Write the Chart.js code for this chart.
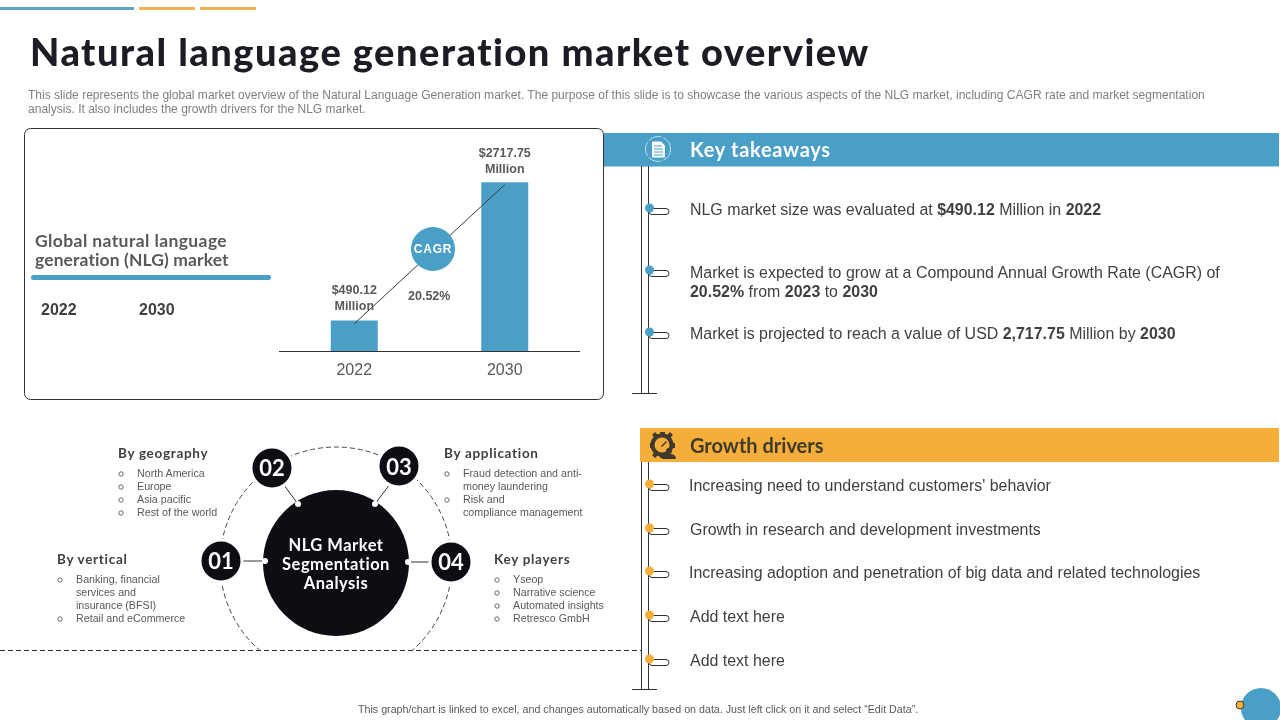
<!DOCTYPE html>
<html>
<head>
<meta charset="utf-8">
<title>Natural language generation market overview</title>
<script src="https://cdn.jsdelivr.net/npm/chart.js@4"></script>
<style>
  html, body { margin: 0; padding: 0; background: #fff; }
  #page { position: relative; width: 1280px; height: 720px; overflow: hidden; font-family: "Liberation Sans", sans-serif; color: #404040; }
  #page > svg { position: absolute; left: 0; top: 0; }
  #grafik { position: absolute; left: 279px; top: 140px; }
  .t { position: absolute; white-space: nowrap; transform: translateY(-50%); line-height: 1; }
  .judul { font-family: Lato, sans-serif; font-weight: 700; }
  .body16 { font-size: 15.95px; left: 690px; }
  .kecil { font-size: 10.7px; color: #595959; }
  .sub { font-size: 12.04px; color: #7f7f7f; left: 28px; }
  .head { font-family: Lato, sans-serif; font-weight: 700; font-size: 13.5px; color: #404040; letter-spacing: 0.7px; }
  .no { font-family: Lato, sans-serif; font-weight: 700; font-size: 22px; color: #fff; width: 40px; text-align: center; }
  .pusat { font-family: Lato, sans-serif; font-weight: 700; font-size: 16.5px; color: #fff; width: 146px; left: 263px; text-align: center; letter-spacing: 0.5px; }
</style>
</head>
<body>
<div id="page">
  <svg id="bg" width="1280" height="720">
    <defs><clipPath id="potong"><rect x="0" y="0" width="640" height="650"/></clipPath></defs>
    <rect x="0" y="7" width="134" height="3" fill="#5fa3c2"/>
    <rect x="139" y="7" width="56" height="3" fill="#e9b44c"/>
    <rect x="200" y="7" width="56" height="3" fill="#e9b44c"/>

    <rect x="24.5" y="128.5" width="579" height="271" rx="6" fill="#fff" stroke="#333" stroke-width="1"/>
    <rect x="31" y="275" width="240" height="5" rx="2.5" fill="#4a9fc7"/>

    <rect x="604" y="133" width="675" height="33.500" fill="#4a9fc7"/>
    <rect x="640" y="428" width="639" height="34" fill="#f6ae3a"/>

    <g stroke="#333" stroke-width="1" fill="none">
      <path d="M641.500 166V393M648.500 166V393M632 393.500H657"/>
      <path d="M641.500 462V689M648.500 462V689M632 689.500H657"/>
    </g>

    <!-- icon dokumen -->
    <circle cx="658" cy="149" r="12.500" fill="none" stroke="#bfe0ef" stroke-width="1" stroke-dasharray="14 2"/>
    <path d="M652 141.500h9l4 4v12h-13z" fill="#fff"/>
    <path d="M654 146h8M654 149h9M654 152h9M654 155h9" stroke="#4a9fc7" stroke-width="1"/>

    <!-- icon gear -->
    <g fill="#403a2d">
      <circle cx="662" cy="445" r="9.500" fill="none" stroke="#403a2d" stroke-width="4"/>
      <path d="M660 432h5v4h-5zM660 454h5v4h-5zM650 443h4v5h-4zM671 443h4v5h-4z"/>
      <path d="M652 435l3-3 3 3-3 3zM667 435l3-3 3 3-3 3zM652 455l3-3 3 3-3 3z"/>
      <circle cx="669" cy="451" r="3"/>
      <path d="M662 459c0-4 3-5 7-5s7 1 7 5z"/>
      <path d="M661 446l5-5 1 1-5 5z"/>
    </g>

    <g id="pil"></g>

    <g clip-path="url(#potong)">
      <circle cx="336" cy="563" r="116" fill="none" stroke="#444" stroke-width="1" stroke-dasharray="5 3"/>
    </g>
    <path d="M0 650.500H642" stroke="#333" stroke-width="1" stroke-dasharray="5 3"/>

    <g stroke="#333" stroke-width="1">
      <path d="M240 561H265M284 485L298 504M390 484L375 504M408 562H432"/>
    </g>
    <circle cx="336" cy="563" r="73" fill="#0d0d14"/>
    <g fill="#fff">
      <circle cx="265" cy="561" r="3"/><circle cx="298" cy="504" r="3"/>
      <circle cx="375" cy="504" r="3"/><circle cx="408" cy="562" r="3"/>
    </g>
    <g fill="#0d0d14" stroke="#fff" stroke-width="3">
      <circle cx="221" cy="561" r="21"/><circle cx="272" cy="468" r="21"/>
      <circle cx="399" cy="466" r="21"/><circle cx="451" cy="562" r="21"/>
    </g>

    <g fill="none" stroke="#595959" stroke-width="0.900" id="titik"></g>

    <circle cx="1261" cy="708" r="20" fill="#4a9fc7"/>
    <circle cx="1240" cy="705" r="4" fill="#f6ae3a" stroke="#403a2d" stroke-width="1"/>
  </svg>

  <canvas id="grafik" width="301" height="245"></canvas>

  <svg width="1280" height="720" style="pointer-events:none">
    <circle cx="433" cy="249" r="22" fill="#4a9fc7"/>
  </svg>

  <div class="t judul" style="left:30px;top:51px;font-size:38px;font-weight:900;color:#1c1c24;letter-spacing:1.5px">Natural language generation market overview</div>
  <div class="t sub" style="top:95px">This slide represents the global market overview of the Natural Language Generation market. The purpose of this slide is to showcase the various aspects of the NLG market, including CAGR rate and market segmentation</div>
  <div class="t sub" style="top:109px">analysis. It also includes the growth drivers for the NLG market.</div>

  <div class="t judul" style="left:35px;top:241px;font-size:17.5px;color:#595959;letter-spacing:0.4px">Global natural language</div>
  <div class="t judul" style="left:35px;top:260px;font-size:17.5px;color:#595959;letter-spacing:0.1px">generation (NLG) market</div>
  <div class="t" style="left:41px;top:309.500px;font-size:16px;font-weight:700">2022</div>
  <div class="t" style="left:139px;top:309.500px;font-size:16px;font-weight:700">2030</div>
  <div class="t" style="left:413px;top:249px;width:40px;text-align:center;font-size:12px;font-weight:700;color:#fff;letter-spacing:0.8px">CAGR</div>
  <div class="t" style="left:408px;top:296px;font-size:12.500px;font-weight:700;color:#595959">20.52%</div>

  <div class="t judul" style="left:690px;top:149px;font-size:20px;color:#fff;letter-spacing:0.7px">Key takeaways</div>
  <div class="t body16" style="top:209.500px">NLG market size was evaluated at <b>$490.12</b> Million in <b>2022</b></div>
  <div class="t body16" style="top:272.500px">Market is expected to grow at a Compound Annual Growth Rate (CAGR) of</div>
  <div class="t body16" style="top:291.500px"><b>20.52%</b> from <b>2023</b> to <b>2030</b></div>
  <div class="t body16" style="top:333.500px">Market is projected to reach a value of USD <b>2,717.75</b> Million by <b>2030</b></div>

  <div class="t judul" style="left:690px;top:445px;font-size:20px;color:#403a2d">Growth drivers</div>
  <div class="t body16" style="top:485.500px;left:689px">Increasing need to understand customers' behavior</div>
  <div class="t body16" style="top:529.500px">Growth in research and development investments</div>
  <div class="t body16" style="top:572.500px;left:689px">Increasing adoption and penetration of big data and related technologies</div>
  <div class="t body16" style="top:616.500px">Add text here</div>
  <div class="t body16" style="top:660.500px">Add text here</div>

  <div class="t head" style="left:118px;top:453.500px">By geography</div>
  <div class="t kecil" style="left:137px;top:473px">North America</div>
  <div class="t kecil" style="left:137px;top:486px">Europe</div>
  <div class="t kecil" style="left:137px;top:499px">Asia pacific</div>
  <div class="t kecil" style="left:137px;top:512px">Rest of the world</div>

  <div class="t head" style="left:444px;top:453.500px">By application</div>
  <div class="t kecil" style="left:463px;top:473px">Fraud detection and anti-</div>
  <div class="t kecil" style="left:463px;top:486px">money laundering</div>
  <div class="t kecil" style="left:463px;top:499px">Risk and</div>
  <div class="t kecil" style="left:463px;top:512px">compliance management</div>

  <div class="t head" style="left:57px;top:559.500px">By vertical</div>
  <div class="t kecil" style="left:76px;top:579px">Banking, financial</div>
  <div class="t kecil" style="left:76px;top:592px">services and</div>
  <div class="t kecil" style="left:76px;top:605px">insurance (BFSI)</div>
  <div class="t kecil" style="left:76px;top:618px">Retail and eCommerce</div>

  <div class="t head" style="left:494px;top:559.500px">Key players</div>
  <div class="t kecil" style="left:513px;top:579px">Yseop</div>
  <div class="t kecil" style="left:513px;top:592px">Narrative science</div>
  <div class="t kecil" style="left:513px;top:605px">Automated insights</div>
  <div class="t kecil" style="left:513px;top:618px">Retresco GmbH</div>

  <div class="t no" style="left:201px;top:561px">01</div>
  <div class="t no" style="left:252px;top:468px">02</div>
  <div class="t no" style="left:379px;top:467px">03</div>
  <div class="t no" style="left:431px;top:562px">04</div>

  <div class="t pusat" style="top:545px">NLG Market</div>
  <div class="t pusat" style="top:564px">Segmentation</div>
  <div class="t pusat" style="top:583px">Analysis</div>

  <div class="t" style="left:358px;top:709px;font-size:10.700px;color:#595959">This graph/chart is linked to excel, and changes automatically based on data. Just left click on it and select “Edit Data”.</div>
</div>

<script>
const tahun = ["2022", "2030"];
const nilaiPasar = [490.12, 2717.75];
const garisCagr = [440, 2680];
const labelNilai = [["$490.12", "Million"], ["$2717.75", "Million"]];
const batasAtas = 3400;

const warnaBiru = "#4a9fc7";
const warnaOranye = "#f6ae3a";

// penanda timeline di kolom kanan
const pil = document.getElementById("pil");
function tambahPil(y, warna) {
  pil.insertAdjacentHTML("beforeend",
    '<rect x="649" y="' + y + '.5" width="20" height="6" rx="3" fill="#fff" stroke="#333"/>' +
    '<circle cx="649.5" cy="' + y + '" r="4.5" fill="' + warna + '"/>');
}
[208, 270, 332].forEach(function (y) { tambahPil(y, warnaBiru); });
[484, 528, 571, 615, 659].forEach(function (y) { tambahPil(y, warnaOranye); });

// bullet kecil pada daftar segmentasi
const titik = document.getElementById("titik");
[[121, 473], [121, 486], [121, 499], [121, 512], [447, 473], [447, 499],
 [60, 579], [60, 618], [497, 579], [497, 592], [497, 605], [497, 618]].forEach(function (p) {
  titik.insertAdjacentHTML("beforeend", '<circle cx="' + p[0] + '" cy="' + (p[1] + 1) + '" r="2.2"/>');
});

const labelBatang = {
  id: "labelBatang",
  afterDatasetsDraw(chart) {
    const ctx = chart.ctx;
    const meta = chart.getDatasetMeta(1);
    ctx.save();
    ctx.font = "bold 12.5px 'Liberation Sans'";
    ctx.fillStyle = "#595959";
    ctx.textAlign = "center";
    ctx.textBaseline = "middle";
    meta.data.forEach(function (bar, i) {
      const geser = i === 0 ? 30 : 29;
      ctx.fillText(labelNilai[i][0], bar.x, bar.y - geser);
      ctx.fillText(labelNilai[i][1], bar.x, bar.y - geser + 16);
    });
    ctx.restore();
  }
};

new Chart(document.getElementById("grafik").getContext("2d"), {
  data: {
    labels: tahun,
    datasets: [
      {
        type: "line",
        data: garisCagr,
        borderColor: "#3c3c3c",
        borderWidth: 1,
        pointRadius: 0,
        order: 0
      },
      {
        type: "bar",
        data: nilaiPasar,
        backgroundColor: warnaBiru,
        barPercentage: 0.312,
        categoryPercentage: 1,
        order: 1
      }
    ]
  },
  options: {
    responsive: false,
    animation: false,
    layout: { padding: 0 },
    plugins: { legend: { display: false }, tooltip: { enabled: false } },
    scales: {
      x: {
        grid: { display: false, drawTicks: false },
        border: { color: "#333", width: 1 },
        afterFit(scale) { scale.height = 34; },
        ticks: {
          color: "#595959",
          padding: 10,
          maxRotation: 0,
          font: { family: "'Liberation Sans'", size: 16 }
        }
      },
      y: { display: false, min: 0, max: batasAtas }
    }
  },
  plugins: [labelBatang]
});
</script>
</body>
</html>
